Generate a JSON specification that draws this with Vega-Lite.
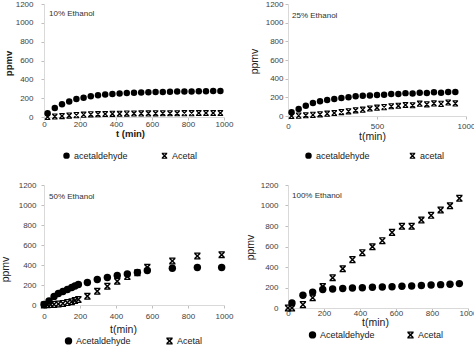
{
  "$schema": "https://vega.github.io/schema/vega-lite/v6.json",
  "padding": 0,
  "columns": 2,
  "align": "all",
  "bounds": "flush",
  "spacing": {"row": 58, "column": 64},
  "resolve": {"scale": {"x": "independent", "y": "independent", "shape": "independent"}, "legend": {"shape": "independent"}},
  "config": {
    "view": {"stroke": null},
    "font": "Liberation Sans",
    "title": {"anchor": "start", "frame": "group", "fontSize": 8, "fontWeight": "normal", "color": "#303030", "baseline": "middle", "font": "Liberation Sans"},
    "axis": {"grid": false, "format": "d", "labelOverlap": false, "labelFlush": false, "domainColor": "#d9d9d9", "tickColor": "#bfbfbf", "tickSize": 3, "labelFont": "Liberation Sans", "labelFontSize": 8, "labelColor": "#404040", "titleFont": "Liberation Sans", "titleFontSize": 10.5, "titleFontWeight": "normal", "titleColor": "#202020", "titleBaseline": "middle"},
    "legend": {"orient": "none", "direction": "horizontal", "title": null, "padding": 0, "labelFont": "Liberation Sans", "labelFontSize": 9, "labelColor": "#202020", "labelOffset": 3, "symbolSize": 42, "symbolFillColor": "black"}
  },
  "concat": [
    {
      "width": 180, "height": 113,
      "title": {"text": "10% Ethanol", "offset": -18, "dx": 5},
      "data": {"values": [
        {"t": 20, "ppmv": 40, "series": "acetaldehyde"}, {"t": 60, "ppmv": 95, "series": "acetaldehyde"}, {"t": 100, "ppmv": 135, "series": "acetaldehyde"}, {"t": 140, "ppmv": 165, "series": "acetaldehyde"}, {"t": 180, "ppmv": 190, "series": "acetaldehyde"}, {"t": 220, "ppmv": 205, "series": "acetaldehyde"}, {"t": 260, "ppmv": 220, "series": "acetaldehyde"}, {"t": 300, "ppmv": 232, "series": "acetaldehyde"}, {"t": 340, "ppmv": 240, "series": "acetaldehyde"}, {"t": 380, "ppmv": 245, "series": "acetaldehyde"}, {"t": 420, "ppmv": 250, "series": "acetaldehyde"}, {"t": 460, "ppmv": 255, "series": "acetaldehyde"}, {"t": 500, "ppmv": 258, "series": "acetaldehyde"}, {"t": 540, "ppmv": 260, "series": "acetaldehyde"}, {"t": 580, "ppmv": 262, "series": "acetaldehyde"}, {"t": 620, "ppmv": 265, "series": "acetaldehyde"}, {"t": 660, "ppmv": 266, "series": "acetaldehyde"}, {"t": 700, "ppmv": 268, "series": "acetaldehyde"}, {"t": 740, "ppmv": 270, "series": "acetaldehyde"}, {"t": 780, "ppmv": 272, "series": "acetaldehyde"}, {"t": 820, "ppmv": 272, "series": "acetaldehyde"}, {"t": 860, "ppmv": 273, "series": "acetaldehyde"}, {"t": 900, "ppmv": 274, "series": "acetaldehyde"}, {"t": 940, "ppmv": 275, "series": "acetaldehyde"}, {"t": 980, "ppmv": 275, "series": "acetaldehyde"},
        {"t": 20, "ppmv": 0, "series": "Acetal"}, {"t": 60, "ppmv": 5, "series": "Acetal"}, {"t": 100, "ppmv": 10, "series": "Acetal"}, {"t": 140, "ppmv": 15, "series": "Acetal"}, {"t": 180, "ppmv": 20, "series": "Acetal"}, {"t": 220, "ppmv": 25, "series": "Acetal"}, {"t": 260, "ppmv": 28, "series": "Acetal"}, {"t": 300, "ppmv": 30, "series": "Acetal"}, {"t": 340, "ppmv": 32, "series": "Acetal"}, {"t": 380, "ppmv": 34, "series": "Acetal"}, {"t": 420, "ppmv": 35, "series": "Acetal"}, {"t": 460, "ppmv": 36, "series": "Acetal"}, {"t": 500, "ppmv": 37, "series": "Acetal"}, {"t": 540, "ppmv": 38, "series": "Acetal"}, {"t": 580, "ppmv": 38, "series": "Acetal"}, {"t": 620, "ppmv": 39, "series": "Acetal"}, {"t": 660, "ppmv": 40, "series": "Acetal"}, {"t": 700, "ppmv": 40, "series": "Acetal"}, {"t": 740, "ppmv": 40, "series": "Acetal"}, {"t": 780, "ppmv": 41, "series": "Acetal"}, {"t": 820, "ppmv": 41, "series": "Acetal"}, {"t": 860, "ppmv": 42, "series": "Acetal"}, {"t": 900, "ppmv": 42, "series": "Acetal"}, {"t": 940, "ppmv": 42, "series": "Acetal"}, {"t": 980, "ppmv": 42, "series": "Acetal"}
      ]},
      "mark": {"type": "point", "filled": true, "color": "black", "size": 42, "opacity": 1},
      "encoding": {
        "x": {"field": "t", "type": "quantitative", "scale": {"domain": [0, 1000]}, "axis": {"values": [0, 200, 400, 600, 800, 1000], "labelOverlap": false, "title": "t (min)", "titleFontWeight": "bold", "titleFontSize": 9.5, "labelPadding": 0, "titleX": 86, "titleY": 16}},
        "y": {"field": "ppmv", "type": "quantitative", "scale": {"domain": [0, 1200]}, "axis": {"values": [0, 200, 400, 600, 800, 1000, 1200], "labelOverlap": false, "title": "ppmv", "titleFontWeight": "bold", "titleFontSize": 9.5, "labelPadding": 8, "titleX": -36, "titleY": 59}},
        "shape": {"field": "series", "type": "nominal", "scale": {"domain": ["acetaldehyde", "Acetal"], "range": ["circle", "M-0.559,-0.841L0.841,0.559L0.559,0.841L-0.841,-0.559ZM0.841,-0.559L-0.559,0.841L-0.841,0.559L0.559,-0.841ZM-0.85,-0.95L0.85,-0.95L0.85,-0.62L-0.85,-0.62ZM-0.85,0.62L0.85,0.62L0.85,0.95L-0.85,0.95Z"]}, "legend": {"legendX": 18, "legendY": 147, "columnPadding": 30}}
      }
    },
    {
      "width": 178, "height": 112,
      "title": {"text": "25% Ethanol", "offset": -20, "dx": 4},
      "data": {"values": [
        {"t": 20, "ppmv": 40, "series": "acetaldehyde"}, {"t": 60, "ppmv": 75, "series": "acetaldehyde"}, {"t": 100, "ppmv": 110, "series": "acetaldehyde"}, {"t": 140, "ppmv": 139, "series": "acetaldehyde"}, {"t": 180, "ppmv": 157, "series": "acetaldehyde"}, {"t": 220, "ppmv": 171, "series": "acetaldehyde"}, {"t": 260, "ppmv": 182, "series": "acetaldehyde"}, {"t": 300, "ppmv": 193, "series": "acetaldehyde"}, {"t": 340, "ppmv": 200, "series": "acetaldehyde"}, {"t": 380, "ppmv": 211, "series": "acetaldehyde"}, {"t": 420, "ppmv": 218, "series": "acetaldehyde"}, {"t": 460, "ppmv": 220, "series": "acetaldehyde"}, {"t": 500, "ppmv": 225, "series": "acetaldehyde"}, {"t": 540, "ppmv": 228, "series": "acetaldehyde"}, {"t": 580, "ppmv": 235, "series": "acetaldehyde"}, {"t": 620, "ppmv": 235, "series": "acetaldehyde"}, {"t": 660, "ppmv": 245, "series": "acetaldehyde"}, {"t": 700, "ppmv": 240, "series": "acetaldehyde"}, {"t": 740, "ppmv": 250, "series": "acetaldehyde"}, {"t": 780, "ppmv": 246, "series": "acetaldehyde"}, {"t": 820, "ppmv": 254, "series": "acetaldehyde"}, {"t": 860, "ppmv": 250, "series": "acetaldehyde"}, {"t": 900, "ppmv": 258, "series": "acetaldehyde"}, {"t": 940, "ppmv": 256, "series": "acetaldehyde"},
        {"t": 20, "ppmv": 0, "series": "acetal"}, {"t": 60, "ppmv": 4, "series": "acetal"}, {"t": 100, "ppmv": 8, "series": "acetal"}, {"t": 140, "ppmv": 12, "series": "acetal"}, {"t": 180, "ppmv": 18, "series": "acetal"}, {"t": 220, "ppmv": 25, "series": "acetal"}, {"t": 260, "ppmv": 32, "series": "acetal"}, {"t": 300, "ppmv": 42, "series": "acetal"}, {"t": 340, "ppmv": 50, "series": "acetal"}, {"t": 380, "ppmv": 61, "series": "acetal"}, {"t": 420, "ppmv": 68, "series": "acetal"}, {"t": 460, "ppmv": 80, "series": "acetal"}, {"t": 500, "ppmv": 89, "series": "acetal"}, {"t": 540, "ppmv": 95, "series": "acetal"}, {"t": 580, "ppmv": 104, "series": "acetal"}, {"t": 620, "ppmv": 110, "series": "acetal"}, {"t": 660, "ppmv": 118, "series": "acetal"}, {"t": 700, "ppmv": 115, "series": "acetal"}, {"t": 740, "ppmv": 132, "series": "acetal"}, {"t": 780, "ppmv": 125, "series": "acetal"}, {"t": 820, "ppmv": 135, "series": "acetal"}, {"t": 860, "ppmv": 130, "series": "acetal"}, {"t": 900, "ppmv": 145, "series": "acetal"}, {"t": 940, "ppmv": 135, "series": "acetal"}
      ]},
      "mark": {"type": "point", "filled": true, "color": "black", "size": 42, "opacity": 1},
      "encoding": {
        "x": {"field": "t", "type": "quantitative", "scale": {"domain": [0, 1000]}, "axis": {"values": [0, 500, 1000], "labelOverlap": false, "title": "t(min)", "labelPadding": 3.5, "titleX": 84, "titleY": 20}},
        "y": {"field": "ppmv", "type": "quantitative", "scale": {"domain": [0, 1200]}, "axis": {"values": [0, 200, 400, 600, 800, 1000, 1200], "labelOverlap": false, "title": "ppmv", "labelPadding": 2, "titleX": -34, "titleY": 57}},
        "shape": {"field": "series", "type": "nominal", "scale": {"domain": ["acetaldehyde", "acetal"], "range": ["circle", "M-0.559,-0.841L0.841,0.559L0.559,0.841L-0.841,-0.559ZM0.841,-0.559L-0.559,0.841L-0.841,0.559L0.559,-0.841ZM-0.85,-0.95L0.85,-0.95L0.85,-0.62L-0.85,-0.62ZM-0.85,0.62L0.85,0.62L0.85,0.95L-0.85,0.95Z"]}, "legend": {"legendX": 16, "legendY": 147, "columnPadding": 36}}
      }
    },
    {
      "width": 180, "height": 120,
      "title": {"text": "50% Ethanol", "offset": -19.5, "dx": 5},
      "data": {"values": [
        {"t": 0, "ppmv": 5, "series": "Acetaldehyde"}, {"t": 28, "ppmv": 40, "series": "Acetaldehyde"}, {"t": 56, "ppmv": 85, "series": "Acetaldehyde"}, {"t": 80, "ppmv": 115, "series": "Acetaldehyde"}, {"t": 105, "ppmv": 135, "series": "Acetaldehyde"}, {"t": 130, "ppmv": 155, "series": "Acetaldehyde"}, {"t": 154, "ppmv": 175, "series": "Acetaldehyde"}, {"t": 172, "ppmv": 190, "series": "Acetaldehyde"}, {"t": 191, "ppmv": 205, "series": "Acetaldehyde"}, {"t": 241, "ppmv": 225, "series": "Acetaldehyde"}, {"t": 296, "ppmv": 255, "series": "Acetaldehyde"}, {"t": 352, "ppmv": 275, "series": "Acetaldehyde"}, {"t": 407, "ppmv": 295, "series": "Acetaldehyde"}, {"t": 463, "ppmv": 310, "series": "Acetaldehyde"}, {"t": 519, "ppmv": 325, "series": "Acetaldehyde"}, {"t": 574, "ppmv": 345, "series": "Acetaldehyde"}, {"t": 713, "ppmv": 368, "series": "Acetaldehyde"}, {"t": 852, "ppmv": 375, "series": "Acetaldehyde"}, {"t": 987, "ppmv": 375, "series": "Acetaldehyde"},
        {"t": 0, "ppmv": 0, "series": "Acetal"}, {"t": 19, "ppmv": 2, "series": "Acetal"}, {"t": 37, "ppmv": 4, "series": "Acetal"}, {"t": 56, "ppmv": 6, "series": "Acetal"}, {"t": 80, "ppmv": 10, "series": "Acetal"}, {"t": 105, "ppmv": 16, "series": "Acetal"}, {"t": 130, "ppmv": 24, "series": "Acetal"}, {"t": 154, "ppmv": 33, "series": "Acetal"}, {"t": 172, "ppmv": 45, "series": "Acetal"}, {"t": 191, "ppmv": 55, "series": "Acetal"}, {"t": 241, "ppmv": 88, "series": "Acetal"}, {"t": 296, "ppmv": 138, "series": "Acetal"}, {"t": 352, "ppmv": 187, "series": "Acetal"}, {"t": 407, "ppmv": 237, "series": "Acetal"}, {"t": 463, "ppmv": 285, "series": "Acetal"}, {"t": 519, "ppmv": 322, "series": "Acetal"}, {"t": 574, "ppmv": 378, "series": "Acetal"}, {"t": 713, "ppmv": 440, "series": "Acetal"}, {"t": 852, "ppmv": 490, "series": "Acetal"}, {"t": 987, "ppmv": 502, "series": "Acetal"}
      ]},
      "mark": {"type": "point", "filled": true, "color": "black", "size": 55, "opacity": 1},
      "encoding": {
        "x": {"field": "t", "type": "quantitative", "scale": {"domain": [0, 1000]}, "axis": {"values": [0, 200, 400, 600, 800, 1000], "labelOverlap": false, "title": "t(min)", "labelPadding": 4, "titleX": 79, "titleY": 24}},
        "y": {"field": "ppmv", "type": "quantitative", "scale": {"domain": [0, 1200]}, "axis": {"values": [0, 200, 400, 600, 800, 1000, 1200], "labelOverlap": false, "title": "ppmv", "labelPadding": 5, "titleX": -39, "titleY": 84}},
        "shape": {"field": "series", "type": "nominal", "scale": {"domain": ["Acetaldehyde", "Acetal"], "range": ["circle", "M-0.559,-0.841L0.841,0.559L0.559,0.841L-0.841,-0.559ZM0.841,-0.559L-0.559,0.841L-0.841,0.559L0.559,-0.841ZM-0.85,-0.95L0.85,-0.95L0.85,-0.62L-0.85,-0.62ZM-0.85,0.62L0.85,0.62L0.85,0.95L-0.85,0.95Z"]}, "legend": {"legendX": 20, "legendY": 151, "columnPadding": 32, "symbolSize": 55}}
      }
    },
    {
      "width": 180, "height": 123,
      "title": {"text": "100% Ethanol", "offset": -18.5, "dx": 4},
      "data": {"values": [
        {"t": 22, "ppmv": 50, "series": "Acetaldehyde"}, {"t": 83, "ppmv": 125, "series": "Acetaldehyde"}, {"t": 137, "ppmv": 155, "series": "Acetaldehyde"}, {"t": 193, "ppmv": 180, "series": "Acetaldehyde"}, {"t": 248, "ppmv": 185, "series": "Acetaldehyde"}, {"t": 304, "ppmv": 190, "series": "Acetaldehyde"}, {"t": 358, "ppmv": 195, "series": "Acetaldehyde"}, {"t": 413, "ppmv": 198, "series": "Acetaldehyde"}, {"t": 469, "ppmv": 202, "series": "Acetaldehyde"}, {"t": 524, "ppmv": 205, "series": "Acetaldehyde"}, {"t": 578, "ppmv": 208, "series": "Acetaldehyde"}, {"t": 633, "ppmv": 212, "series": "Acetaldehyde"}, {"t": 687, "ppmv": 215, "series": "Acetaldehyde"}, {"t": 741, "ppmv": 220, "series": "Acetaldehyde"}, {"t": 795, "ppmv": 224, "series": "Acetaldehyde"}, {"t": 848, "ppmv": 228, "series": "Acetaldehyde"}, {"t": 900, "ppmv": 232, "series": "Acetaldehyde"}, {"t": 952, "ppmv": 238, "series": "Acetaldehyde"},
        {"t": 0, "ppmv": 0, "series": "Acetal"}, {"t": 22, "ppmv": 0, "series": "Acetal"}, {"t": 83, "ppmv": 33, "series": "Acetal"}, {"t": 137, "ppmv": 100, "series": "Acetal"}, {"t": 193, "ppmv": 210, "series": "Acetal"}, {"t": 248, "ppmv": 295, "series": "Acetal"}, {"t": 304, "ppmv": 383, "series": "Acetal"}, {"t": 358, "ppmv": 472, "series": "Acetal"}, {"t": 413, "ppmv": 540, "series": "Acetal"}, {"t": 469, "ppmv": 598, "series": "Acetal"}, {"t": 524, "ppmv": 657, "series": "Acetal"}, {"t": 578, "ppmv": 738, "series": "Acetal"}, {"t": 633, "ppmv": 797, "series": "Acetal"}, {"t": 687, "ppmv": 797, "series": "Acetal"}, {"t": 741, "ppmv": 859, "series": "Acetal"}, {"t": 795, "ppmv": 904, "series": "Acetal"}, {"t": 848, "ppmv": 956, "series": "Acetal"}, {"t": 900, "ppmv": 998, "series": "Acetal"}, {"t": 952, "ppmv": 1070, "series": "Acetal"}
      ]},
      "mark": {"type": "point", "filled": true, "color": "black", "size": 55, "opacity": 1},
      "encoding": {
        "x": {"field": "t", "type": "quantitative", "scale": {"domain": [0, 1000]}, "axis": {"values": [0, 200, 400, 600, 800, 1000], "labelOverlap": false, "title": "t(min)", "labelPadding": -1.5, "titleX": 87, "titleY": 14.5}},
        "y": {"field": "ppmv", "type": "quantitative", "scale": {"domain": [0, 1200]}, "axis": {"values": [0, 200, 400, 600, 800, 1000, 1200], "labelOverlap": false, "title": "ppmv", "labelPadding": 7, "titleX": -38, "titleY": 62}},
        "shape": {"field": "series", "type": "nominal", "scale": {"domain": ["Acetaldehyde", "Acetal"], "range": ["circle", "M-0.559,-0.841L0.841,0.559L0.559,0.841L-0.841,-0.559ZM0.841,-0.559L-0.559,0.841L-0.841,0.559L0.559,-0.841ZM-0.85,-0.95L0.85,-0.95L0.85,-0.62L-0.85,-0.62ZM-0.85,0.62L0.85,0.62L0.85,0.95L-0.85,0.95Z"]}, "legend": {"legendX": 20, "legendY": 145, "columnPadding": 29, "symbolSize": 55}}
      }
    }
  ]
}
